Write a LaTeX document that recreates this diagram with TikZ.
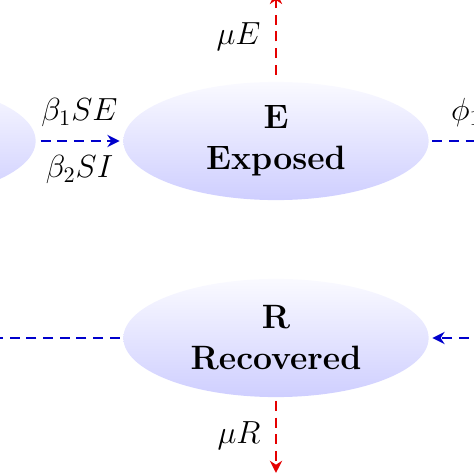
\documentclass[tikz,border=0pt]{standalone}
\usepackage{amsmath,amssymb}
\usepackage{tikz}
\usetikzlibrary{shapes.geometric,arrows.meta,shadings}

\tikzset{
    comp/.style={ellipse, minimum width=4.83cm, minimum height=1.87cm, inner sep=0pt,
        top color=blue!2, bottom color=blue!19, align=center,
        font=\fontsize{15.2}{18.5}\selectfont\bfseries},
    flow/.style={-{Stealth[length=5.5pt,width=5.5pt]}, draw=blue!80!black,
        line width=1.3pt, dash pattern=on 4.5pt off 3pt},
    death/.style={flow, draw=red!90!black},
    lab/.style={font=\Large}
}

\begin{document}
\begin{tikzpicture}
    \useasboundingbox (0,0) rectangle (7.5,7.5);
    \clip (0,0) rectangle (7.5,7.5);
    \coordinate (I) at (8.16,5.269);
    \coordinate (outL) at (-1.2,2.152);
    \coordinate (inR) at (9.0,2.152);
    \coordinate (topE) at (4.367,7.63);
    \coordinate (botR) at (4.367,0.016);
    \node[comp] (S) at (-1.851,5.269) {};
    \node[comp] (E) at (4.367,5.269) {E\\Exposed};
    \node[comp] (R) at (4.367,2.152) {R\\Recovered};
    % flows between compartments
    \draw[flow, shorten <=2pt, shorten >=1.5pt] (S.east) --
        node[lab, above=2.5pt] {$\beta_1 SE$}
        node[lab, below=2.5pt] {$\beta_2 SI$} (E.west);
    \draw[flow, shorten <=1.5pt] (E.east) -- node[lab, above=2.5pt, xshift=3pt] {$\phi_1 E$} (I);
    \draw[flow, shorten <=1.5pt] (R.west) -- (outL);
    \draw[flow, shorten >=1.5pt] (inR) -- (R.east);
    % deaths
    \draw[death, shorten <=3pt] (E.north) -- node[lab, left=3pt] {$\mu E$} (topE);
    \draw[death, shorten <=1.5pt] (R.south) -- node[lab, left=3pt] {$\mu R$} (botR);
\end{tikzpicture}
\end{document}
